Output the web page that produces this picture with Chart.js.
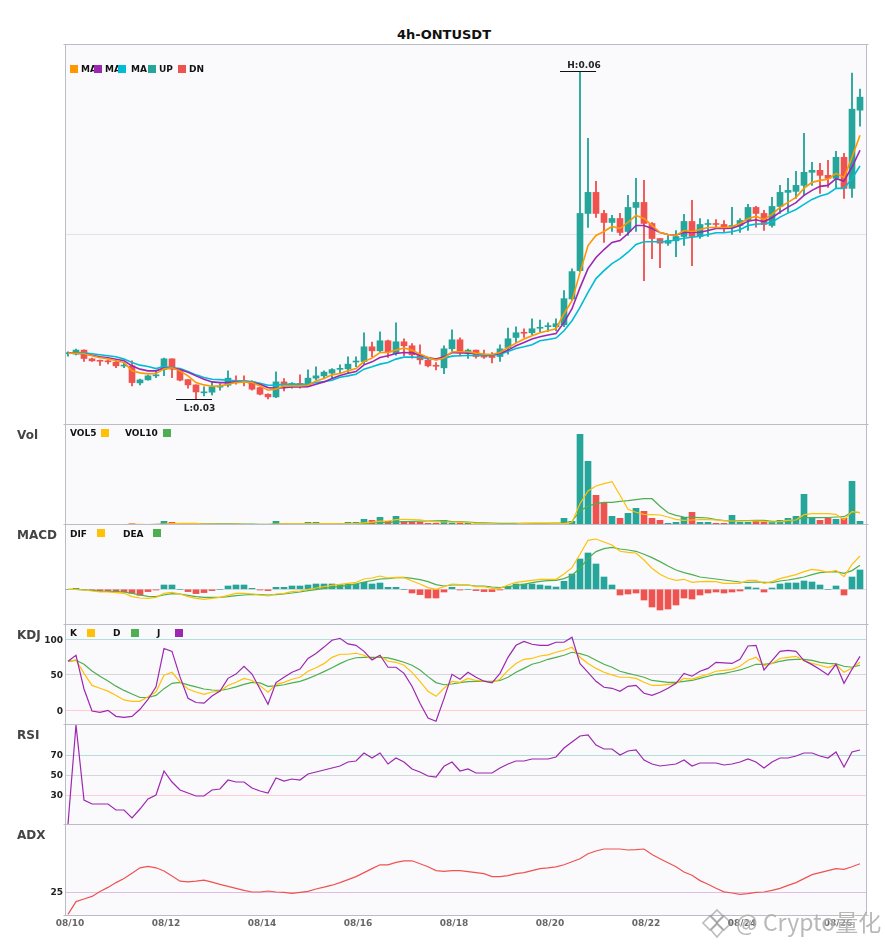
<!DOCTYPE html>
<html>
<head>
<meta charset="utf-8">
<title>4h-ONTUSDT</title>
<script src="https://cdn.jsdelivr.net/npm/chart.js@4"></script>
<style>
	html, body { margin: 0; padding: 0; background: #fff; }
	#page { position: relative; width: 885px; height: 950px; overflow: hidden; font-family: "DejaVu Sans", sans-serif; }
	canvas { position: absolute; left: 0; }
	.txt { position: absolute; font-weight: bold; white-space: nowrap; line-height: 1; }
	.title { left: 0; width: 888px; top: 28px; text-align: center; font-size: 13px; color: #111; }
	.name { left: 17px; font-size: 12px; color: #444; }
	.leg { font-size: 9px; color: #111; }
	.box { position: absolute; width: 8px; height: 8px; }
	#mark { position: absolute; left: 702px; top: 908px; z-index: 5; }
	#markText { position: absolute; left: 736px; top: 909px; z-index: 5; font-family: "Noto Sans CJK SC", sans-serif; font-size: 23px; line-height: 1.1; color: rgba(125,125,125,.55); text-shadow: 0 0 2px #fff; white-space: nowrap; }
</style>
</head>
<body>
<div id="page">
	<canvas id="mainChart" width="885" height="381" style="top:44px"></canvas>
	<canvas id="volChart" width="885" height="101" style="top:424px"></canvas>
	<canvas id="macdChart" width="885" height="101" style="top:524px"></canvas>
	<canvas id="kdjChart" width="885" height="101" style="top:624px"></canvas>
	<canvas id="rsiChart" width="885" height="101" style="top:724px"></canvas>
	<canvas id="adxChart" width="885" height="116" style="top:824px"></canvas>

	<div class="txt title">4h-ONTUSDT</div>
	<div class="txt name" style="top:429px">Vol</div>
	<div class="txt name" style="top:529px">MACD</div>
	<div class="txt name" style="top:629px">KDJ</div>
	<div class="txt name" style="top:729px">RSI</div>
	<div class="txt name" style="top:829px">ADX</div>

	<div class="box" style="left:70px;top:65px;background:#ff9800"></div><div class="txt leg" style="left:81px;top:65px">MA</div>
	<div class="txt leg" style="left:105px;top:65px">MA</div><div class="box" style="left:94px;top:65px;background:#9c27b0"></div>
	<div class="txt leg" style="left:131px;top:65px">MA</div><div class="box" style="left:118px;top:65px;background:#00bcd4"></div>
	<div class="box" style="left:148px;top:65px;background:#26a69a"></div><div class="txt leg" style="left:159px;top:65px">UP</div>
	<div class="box" style="left:178px;top:65px;background:#ef5350"></div><div class="txt leg" style="left:189px;top:65px">DN</div>

	<div class="txt leg" style="left:70px;top:429px">VOL5</div><div class="box" style="left:101px;top:429px;background:#ffc107"></div>
	<div class="txt leg" style="left:125px;top:429px">VOL10</div><div class="box" style="left:163px;top:429px;background:#4caf50"></div>

	<div class="txt leg" style="left:70px;top:530px">DIF</div><div class="box" style="left:97px;top:529px;background:#ffc107"></div>
	<div class="txt leg" style="left:123px;top:530px">DEA</div><div class="box" style="left:153px;top:529px;background:#4caf50"></div>

	<div class="txt leg" style="left:70px;top:629px">K</div><div class="box" style="left:87px;top:629px;background:#ffc107"></div>
	<div class="txt leg" style="left:113px;top:629px">D</div><div class="box" style="left:131px;top:629px;background:#4caf50"></div>
	<div class="txt leg" style="left:157px;top:629px">J</div><div class="box" style="left:175px;top:629px;background:#9c27b0"></div>

	<svg id="mark" width="30" height="32" viewBox="0 0 30 32" fill="none" stroke="rgba(135,135,135,.55)" stroke-width="1.6">
		<path d="M8 8 L15 15 L8 22 L1 15 Z"/><path d="M22 8 L29 15 L22 22 L15 15 Z"/><path d="M15 2 L21 8 L15 14 L9 8 Z"/><path d="M15 16 L21 22 L15 29 L9 22 Z"/>
	</svg>
	<div id="markText">@ Crypto量化</div>
</div>

<script>
const dates = ['08/10', '08/12', '08/14', '08/16', '08/18', '08/20', '08/22', '08/24', '08/26'];
const dateTicks = [0, 12, 24, 36, 48, 60, 72, 84, 96];

const opens = [
	.03451, .03447, .03487, .0340, .0338, .0338, .03367, .03328, .0333, .0316,
	.0319, .0323, .03293, .034, .03297, .03193, .0314, .03061, .03067, .03118,
	.03137, .0318, .0318, .0317, .03113, .03047, .0302, .0317, .03145, .03149,
	.03147, .03207, .0323, .03257, .03295, .033, .03368, .03373, .0352, .0348,
	.0358, .03453, .0357, .0353, .0344, .03387, .0333, .0331, .035, .0359,
	.03453, .03487, .03423, .0343, .03423, .03513, .03613, .0366, .0366, .03705,
	.03721, .0372, .0374, .03997, .0428, .0485, .0506, .0485, .0476, .048,
	.0467, .0491, .0496, .0475, .046, .04553, .04577, .0462, .0477, .0462,
	.0474, .04746, .0474, .04713, .0473, .0478, .0491, .0485, .0473, .0492,
	.0506, .0507, .0513, .0526, .0528, .0523, .052, .0541, .051, .0588
];
const closes = [
	.03454, .03487, .03403, .0338, .03376, .0337, .0333, .03332, .03163, .0319,
	.0323, .0324, .034, .03297, .03187, .0314, .0307, .03065, .0312, .03122,
	.03207, .03176, .03163, .03097, .03047, .0302, .0317, .03133, .03149, .03145,
	.03207, .0323, .03267, .03293, .03299, .03347, .03372, .0352, .0348, .0358,
	.03467, .0357, .0353, .0344, .0339, .0333, .03326, .035, .0359, .03457,
	.03487, .03423, .03417, .03413, .035, .036, .0366, .03655, .037, .03709,
	.03725, .0375, .04, .0427, .0485, .0506, .0485, .0476, .048, .0466,
	.0491, .0496, .0475, .046, .04553, .0458, .0462, .0477, .0462, .0474,
	.04746, .0474, .047, .0473, .0478, .0491, .0485, .0474, .0492, .0506,
	.0508, .0513, .0526, .0528, .0523, .052, .0541, .051, .0589, .0601
];
const highs = [
	.0347, .03497, .0349, .03407, .03387, .0339, .03387, .0336, .0338, .03197,
	.03237, .0328, .03407, .034, .03303, .03193, .0314, .0312, .03173, .03153,
	.0328, .0323, .0323, .0318, .03113, .0305, .0327, .03203, .03163, .0324,
	.0329, .0332, .0328, .03303, .0334, .0342, .0342, .0366, .03567, .0367,
	.03587, .0376, .036, .03553, .0354, .03397, .03363, .0353, .0369, .0361,
	.03497, .03487, .03487, .03463, .0354, .03707, .0372, .037, .038, .03787,
	.0376, .038, .0408, .04297, .06263, .056, .0517, .0488, .0483, .0485,
	.0503, .052, .0518, .0476, .046, .0463, .0468, .0484, .0498, .048,
	.0479, .0479, .0478, .0491, .048, .0494, .0492, .0488, .0501, .0513,
	.052, .0527, .0565, .0536, .0535, .0538, .0547, .0545, .0625, .0609
];
const lows = [
	.03427, .0344, .03373, .03373, .03333, .0335, .03313, .03313, .0313, .0314,
	.03187, .03213, .03233, .03213, .0318, .03107, .02997, .0303, .0304, .03087,
	.0312, .03147, .0313, .03087, .0304, .03, .03013, .0308, .03107, .03107,
	.0313, .03187, .03213, .03213, .03253, .03263, .03323, .03347, .0342, .03463,
	.03413, .03437, .0343, .03407, .03347, .0332, .0329, .03253, .03463, .0343,
	.03403, .03407, .03403, .0336, .03373, .03447, .03563, .03613, .0364, .0367,
	.03673, .0368, .0372, .0398, .0427, .0471, .0481, .0456, .0467, .0463,
	.0463, .0467, .0418, .044, .0431, .0453, .0442, .0453, .0433, .046,
	.0462, .047, .0466, .0464, .0466, .0468, .04713, .0468, .04713, .0485,
	.04863, .05, .0503, .0513, .0505, .0511, .051, .05, .0501, .0572
];

const maFast = [
	.03455, .03455, .0345, .0343, .0341, .0340, .0338, .03363, .0328, .0326,
	.0325, .03253, .0330, .0331, .0328, .0323, .03163, .0314, .03127, .0313,
	.03147, .03163, .0317, .03163, .0313, .03087, .0310, .0313, .0313, .0313,
	.03137, .0318, .03203, .0324, .03253, .0328, .03303, .03373, .03407, .03463,
	.03463, .03487, .03507, .03487, .03447, .03413, .03387, .03407, .0347, .0347,
	.0347, .03457, .03447, .03443, .03463, .03513, .03557, .03597, .0363, .0366,
	.0368, .0370, .0385, .0398, .0426, .0453, .0463, .0467, .0472, .0470,
	.0476, .0483, .0480, .0473, .0466, .0464, .0463, .0468, .0467, .0469,
	.0471, .0471, .0471, .0472, .0475, .0480, .0482, .0479, .0484, .0491,
	.0496, .0501, .0510, .0516, .0518, .0519, .0525, .0521, .0541, .0563
];
const maMid = [
	.03455, .03455, .0345, .03435, .0342, .0341, .03395, .0338, .0333, .03297,
	.0328, .0328, .03307, .03307, .03293, .03267, .0323, .03197, .0317, .03163,
	.03163, .0317, .0317, .03163, .03147, .03113, .03107, .03113, .0312, .0312,
	.03123, .03147, .0317, .03203, .03233, .03257, .03273, .0334, .0337, .03413,
	.0343, .03453, .03463, .0346, .03437, .03413, .03397, .0342, .0346, .0346,
	.03457, .03453, .03443, .0344, .03453, .03487, .0353, .03563, .03597, .0362,
	.03637, .03653, .03763, .039, .0411, .043, .0441, .0449, .0456, .0458,
	.0465, .0473, .0473, .0470, .0466, .0464, .04633, .04663, .0466, .04663,
	.0468, .0470, .0470, .04703, .0473, .04773, .04787, .04767, .04807, .04863,
	.04913, .04957, .0503, .0508, .0512, .0513, .05197, .05173, .05313, .0548
];
const maSlow = [
	.03455, .0346, .0346, .0345, .0344, .0343, .0342, .03397, .03363, .03337,
	.03323, .03303, .03323, .03313, .03303, .03273, .0324, .03213, .03197, .03193,
	.03187, .0318, .0318, .03173, .03157, .03137, .03137, .03147, .03147, .03147,
	.03147, .03163, .03173, .03187, .03217, .0323, .03247, .03297, .0332, .03347,
	.03363, .03397, .03417, .03417, .03413, .03403, .03393, .03407, .03427, .0343,
	.03433, .03433, .03433, .03433, .03447, .03473, .03503, .0352, .0354, .0358,
	.03593, .03607, .0368, .0378, .03913, .04063, .042, .0428, .0435, .044,
	.04463, .0454, .04567, .04567, .04567, .0457, .04587, .04603, .04613, .04623,
	.0464, .04657, .04657, .04667, .04687, .0473, .04743, .04747, .04763, .04813,
	.04853, .0489, .0494, .0499, .05023, .05047, .051, .051, .05197, .05323
];

const volume = [
	.2, .2, .2, .2, .2, .2, .2, .2, 1.3, .2,
	.3, .3, 3.7, 2.7, 1, 1, 1, .7, .7, .7,
	.7, .7, .7, .5, .3, .3, 3.7, 1, .7, .7,
	2.7, 2.7, 1, 1, 1, 2.7, 2.7, 5.7, 4.7, 7.7,
	3.7, 8.7, 3.7, 2.7, 2.7, 1.7, 1.7, 4.7, 2, 2,
	2, .7, .7, .7, 1, 1, 1, .8, 1, 1,
	1, 1, 6.7, 3.7, 90.7, 63.7, 29.7, 22.3, 8.7, 6.7,
	11.7, 16.7, 13.7, 6.7, 4.7, 1.7, 2.7, 7.7, 12.7, 2.7,
	2.7, 1.7, 1.7, 9.7, 2.7, 2.7, 3.7, 2.7, 2.7, 4.7,
	6.7, 8.7, 30.7, 7.7, 4.7, 6.7, 5.7, 6.7, 43.7, 3.7
];
const vol5 = [
	.3, .3, .3, .3, .3, .3, .3, .3, .6, .6,
	.5, .5, 1, 1.4, 1.6, 1.7, 1.6, 1, .8, .7,
	.7, .8, .6, .5, .5, .4, 1, 1.1, 1.1, 1.1,
	1.4, 1.4, 1.3, 1.3, 1.2, 1.4, 1.5, 2.2, 2.8, 3.8,
	4, 5.3, 5.7, 5.5, 5.2, 4, 3, 3, 3, 3,
	2.7, 1.7, 1.5, 1.2, 1, 1, 1.2, 1.7, 1.8, 2,
	1.8, 1.6, 1.3, 2.7, 21.3, 34, 39, 41.3, 43.3, 29.7,
	15.7, 12.7, 10.7, 10.3, 10, 8, 5.7, 4.7, 5, 5.3,
	5.3, 5, 4.3, 4, 4, 4, 4, 3.7, 3, 3.3,
	4.7, 5, 10.3, 11.3, 11.3, 11.3, 10.7, 5.3, 13.3, 12.3
];
const vol10 = [
	.3, .3, .3, .3, .3, .3, .3, .3, .5, .5,
	.5, .6, .8, 1, 1.2, 1.3, 1.3, 1.2, 1.2, 1.2,
	1.1, 1.1, 1, .8, .7, .7, .8, .8, .9, .9,
	1, 1.1, 1.1, 1.2, 1.2, 1.3, 1.4, 1.7, 2, 2.5,
	2.6, 3, 3.4, 3.6, 3.8, 4, 4.2, 4.3, 3.3, 3.3,
	3, 2.3, 2.2, 2, 1.7, 1.7, 1.7, 1.7, 1.7, 1.7,
	1.7, 1.8, 2, 3.7, 14, 19, 21.3, 22.7, 22.7, 23.7,
	24.3, 25.3, 26.3, 26.3, 18.7, 12.3, 9.7, 8, 7.7, 7.3,
	7, 5.3, 4.3, 4, 4.3, 4.5, 4.6, 4.7, 3.7, 3.7,
	3.7, 5.3, 7.3, 7.3, 7.4, 7.5, 8, 8.3, 13, 12.3
];

const macdHist = [
	0, 1, 0, -1.3, -2, -2, -2.5, -2.7, -4, -6,
	-2.3, -.7, 4.3, 4.3, 0, -2.3, -4.3, -3.3, -1.3, 0,
	3.3, 4.3, 4.3, 1, -.7, -1.3, 2, 2, 3.3, 3.3,
	4.3, 5.3, 5.3, 5.3, 5, 5.3, 5.3, 7, 5.3, 6.3,
	2, 2, 0, -3.7, -5.3, -8.7, -8.7, -2.7, 2, -.7,
	0, -1.3, -2.3, -2.3, -.7, 3, 5.3, 5.3, 5.3, 4.3,
	3.3, 2.3, 8, 15.3, 30.3, 36.3, 25.3, 12.3, 4.3, -5.7,
	-4.7, -3.7, -10.7, -17.7, -20.7, -19.7, -15.7, -8.7, -9.7, -5.7,
	-3.7, -2.7, -3.7, -2.7, -1.7, 2.3, 1.3, -2.7, 1.3, 5.3,
	6.3, 6.3, 8.3, 7.3, 4.3, 0, 3.3, -5.7, 12.3, 19.3
];
const dif = [
	0, 0, -.7, -1.7, -2.7, -2.7, -3.3, -4, -7.3, -8.7,
	-9, -8, -4, -3, -4.7, -7.3, -9, -10, -9, -8,
	-6, -4, -4, -4.7, -5.7, -6.7, -4.7, -4, -2.3, -1.7,
	0, 1.3, 2.7, 4, 5, 6, 7, 10.3, 11.3, 13.3,
	11.3, 12, 11.7, 8.3, 5.3, 1.7, 0, 2.7, 5.3, 4.7,
	4.3, 2.7, 2.7, 1, 1, 4.3, 7, 8, 9, 10,
	10, 10, 15.3, 21.7, 35, 49, 50.3, 47.3, 44.3, 38,
	37, 36.3, 29.3, 21, 15, 11, 9, 10, 7, 7.7,
	8, 7.7, 6, 6, 6, 9, 9, 6, 7.7, 10.7,
	12.7, 14.7, 17.7, 20, 19, 17, 19, 12.7, 25, 33.3
];
const dea = [
	0, 0, -.7, -1, -1.7, -2, -2.3, -2.7, -4, -5.7,
	-7, -7.3, -5.7, -4.3, -4.7, -6, -7.3, -8, -8, -8,
	-7.3, -6.3, -5.7, -5, -5.3, -5.7, -5.3, -4.7, -3.7, -2.7,
	-1.3, -.3, 1, 2, 3, 4, 5.3, 7.3, 8.7, 10.3,
	10.7, 11.7, 12, 11, 9.7, 7.7, 4.7, 3.3, 4.3, 4.3,
	4.3, 3.3, 3.3, 2.3, 1.7, 2.7, 3.7, 5, 6.7, 8,
	8.7, 9, 10.7, 14, 21, 31, 37.7, 40.7, 42, 40.3,
	39.3, 38, 35, 31.7, 27.7, 23.3, 19.3, 16.7, 14.7, 12.3,
	11.3, 10.3, 9.3, 8.3, 7.3, 7, 7.3, 7, 6.7, 8.3,
	9.3, 10.7, 12.3, 14.7, 16.7, 17.3, 17.7, 16, 18.7, 24
];

const kLine = [
	69, 70.9, 52, 35, 31, 27, 20.7, 14.6, 12.7, 12.7,
	19, 26, 49.3, 53.5, 40, 30, 25.8, 22.5, 25.8, 27,
	35, 39.4, 45, 42, 34.7, 25.4, 36.6, 39.4, 43.7, 46.5,
	55, 60, 65.7, 74.6, 78.9, 78.9, 80.3, 77.5, 71.8, 76.5,
	69, 67.6, 63.4, 53.5, 40.8, 26.8, 19.7, 31, 40.8, 39.4,
	45, 42, 41, 39.4, 43.7, 56.3, 66, 71.8, 73, 76.5,
	78, 81.7, 84.5, 88.7, 74.6, 66, 59, 53.5, 49.8, 46.5,
	46.5, 45, 39.4, 35, 35, 36.6, 38, 45, 44, 47.4,
	50.7, 55, 56.3, 57.7, 62, 70.4, 74.6, 63, 66, 73,
	74.6, 76, 70, 66, 63.4, 60, 64.3, 53.5, 59.6, 67.6
];
const dLine = [
	69, 70.4, 64.8, 55.4, 47.9, 41.3, 34, 28, 23, 18,
	18, 21, 30.5, 38, 39.4, 35.7, 33, 30, 28.6, 28,
	30, 33, 36.6, 39.4, 38.5, 33.8, 34.3, 36, 38.5, 40.8,
	44.6, 49.3, 54.5, 60, 65.7, 70.9, 74, 74.6, 74.6, 74.6,
	73.7, 70.9, 67.6, 63.4, 56.8, 47.4, 39, 36, 37, 39,
	40.4, 40.8, 40.8, 40.8, 42, 46.5, 53.5, 59, 64.8, 67.6,
	71.8, 74.6, 77.5, 81.7, 79.8, 76.5, 70.4, 64.8, 60.6, 55,
	52, 49.3, 46.5, 42, 40.8, 39.4, 39.4, 40.8, 42, 45,
	47.9, 50.7, 52, 54.3, 56.8, 60.6, 64.8, 64.8, 66, 69,
	70.9, 71.8, 71.8, 70.4, 67.6, 66, 65.3, 62, 60.6, 63.4
];
const jLine = [
	69, 77.5, 30, -1, -3, 0, -8.5, -10, -8.5, 1.4,
	15.5, 33, 87, 83, 47, 17, 11, 10, 20, 27,
	45, 51, 62, 51, 30, 8.5, 39, 46.5, 53.5, 58,
	73, 80, 89, 98.6, 101.4, 93.4, 91.5, 83, 71, 77.5,
	60.6, 60.6, 52, 33.8, 10, -11, -15.5, 16.4, 50.7, 43.7,
	53.5, 46.5, 41, 38.5, 52, 74.6, 91.5, 97, 93, 91.5,
	91.5, 95.8, 95.8, 102.8, 65.7, 53.5, 40.8, 32.4, 31, 26.8,
	33.8, 35.2, 24, 21, 25.4, 31, 38, 52, 48, 55,
	59, 67.6, 66.7, 66, 71.8, 90.6, 91.5, 56.8, 70, 83,
	84.5, 83, 70, 64.3, 57.3, 49.8, 64.8, 38, 57.7, 76
];

const rsi = [
	1, 100, 25, 21, 21, 21, 15, 15, 7, 16,
	26, 30, 54, 43, 35, 32, 29, 29, 35, 36,
	45, 43, 43, 37, 34, 32, 47, 44, 46, 45,
	51, 53, 55, 57, 59, 63, 64, 72, 67, 72,
	61, 67, 63, 56, 53, 49, 48, 58.7, 63, 54,
	56, 52, 52, 52, 57, 61, 64, 64, 66, 66,
	66, 68, 77, 83, 89, 90, 80, 76, 76, 70,
	74, 75, 65, 61, 59, 60, 61, 65, 59, 62,
	62, 62, 60, 61, 63, 66, 63, 57, 63, 67,
	67, 69, 72, 72, 69, 67, 73, 58, 73, 75
];

const adx = [
	13.8, 20.2, 21.5, 22.8, 25.3, 27.3, 29.7, 31.7, 34.4, 37.1,
	37.8, 37.1, 35.5, 33, 30.4, 30.1, 30.4, 30.9, 29.9, 28.8,
	27.8, 26.8, 25.8, 25, 25, 25.5, 25, 24.8, 24.3, 24.8,
	25.3, 26.5, 27.4, 28.4, 29.7, 31.2, 32.7, 34.7, 36.7, 38.6,
	38.6, 39.8, 40.6, 40.6, 39.1, 37.6, 35.7, 35.3, 35.7, 35.7,
	35.2, 34.7, 34.2, 32.7, 32.7, 33.2, 34.2, 34.7, 35.7, 36.7,
	37.1, 37.6, 38.6, 40.1, 41.6, 44.1, 45.5, 46.5, 46.5, 46.5,
	46, 46.2, 46.5, 43.7, 41.6, 39.6, 37.6, 35, 33.4, 30.7,
	28.9, 26.9, 25.1, 24.5, 23.8, 24.2, 24.8, 25, 25.8, 26.8,
	28.3, 29.7, 31.7, 33.7, 34.7, 35.7, 36.7, 36.3, 37.6, 39.1
];

const UP = '#26a69a';
const DN = '#ef5350';
const candleColors = opens.map((o, i) => closes[i] >= o ? UP : DN);

function points(values) {
	return values.map((v, i) => ({ x: i, y: v }));
}

function lineSet(values, color, width) {
	return {
		type: 'line',
		data: points(values),
		borderColor: color,
		borderWidth: width || 1.2,
		pointRadius: 0,
		tension: 0,
		order: 1
	};
}

function barSet(data, colors, thickness, order, minLength) {
	return {
		type: 'bar',
		data: data,
		backgroundColor: colors,
		barThickness: thickness,
		grouped: false,
		borderWidth: 0,
		borderSkipped: false,
		minBarLength: minLength || 0,
		order: order
	};
}

// panel background and frame
const panelFrame = {
	id: 'panelFrame',
	beforeDraw(chart) {
		const a = chart.chartArea;
		chart.ctx.fillStyle = '#fafafc';
		chart.ctx.fillRect(a.left, a.top, a.width, a.height);
	},
	afterDraw(chart) {
		const a = chart.chartArea;
		const c = chart.ctx;
		c.save();
		c.strokeStyle = '#bcbcc4';
		c.lineWidth = 1;
		c.beginPath();
		// top and bottom lines stick out 2px, like small ticks on the frame
		c.moveTo(a.left - 2.5, a.top - 0.5);
		c.lineTo(a.right + 2.5, a.top - 0.5);
		c.moveTo(a.left - 2.5, a.bottom + 0.5);
		c.lineTo(a.right + 2.5, a.bottom + 0.5);
		c.moveTo(a.left - 0.5, a.top - 0.5);
		c.lineTo(a.left - 0.5, a.bottom);
		c.moveTo(a.right + 0.5, a.top - 0.5);
		c.lineTo(a.right + 0.5, a.bottom);
		c.stroke();
		c.restore();
	}
};

// H: / L: marks on the highest and lowest candle
const hiLoMarks = {
	id: 'hiLoMarks',
	afterDatasetsDraw(chart) {
		const c = chart.ctx;
		const x = chart.scales.x;
		const y = chart.scales.y;
		const hi = Math.max(...highs);
		const lo = Math.min(...lows);
		const hx = x.getPixelForValue(highs.indexOf(hi));
		const lx = x.getPixelForValue(lows.indexOf(lo));
		const hy = Math.round(y.getPixelForValue(hi)) - 0.5;
		const ly = Math.round(y.getPixelForValue(lo)) + 0.5;
		c.save();
		c.strokeStyle = '#111';
		c.lineWidth = 1;
		c.beginPath();
		c.moveTo(hx - 20, hy);
		c.lineTo(hx + 16, hy);
		c.moveTo(lx - 20, ly);
		c.lineTo(lx + 16, ly);
		c.stroke();
		c.fillStyle = '#222';
		c.font = 'bold 9px "DejaVu Sans"';
		c.textAlign = 'center';
		c.textBaseline = 'middle';
		c.fillText('H:' + hi.toFixed(2), hx + 4, hy - 6);
		c.fillText('L:' + lo.toFixed(2), lx + 3.5, ly + 9);
		c.restore();
	}
};

function makePanel(id, datasets, yMin, yMax, gridLines, showLabels, withDates) {
	return new Chart(document.getElementById(id).getContext('2d'), {
		type: 'bar',
		data: { datasets: datasets },
		plugins: id === 'mainChart' ? [panelFrame, hiLoMarks] : [panelFrame],
		options: {
			responsive: false,
			animation: false,
			events: [],
			layout: { padding: { left: 0, right: 19, top: 1, bottom: 0 } },
			plugins: { legend: { display: false }, tooltip: { enabled: false }, title: { display: false } },
			scales: {
				x: {
					type: 'linear',
					offset: false,
					min: -0.25,
					max: 99.75,
					display: withDates,
					afterBuildTicks: s => { s.ticks = dateTicks.map(v => ({ value: v })); },
					afterFit: s => {
						s.height = withDates ? 25 : 0;
						s.paddingLeft = 0;
						s.paddingRight = 0;
					},
					grid: { display: false, drawTicks: false },
					border: { display: false },
					ticks: {
						autoSkip: false,
						maxRotation: 0,
						padding: 3,
						labelOffset: 2,
						color: '#666',
						font: { family: 'DejaVu Sans', size: 9, weight: 'bold' },
						callback: (v, i) => dates[i]
					}
				},
				y: {
					min: yMin,
					max: yMax,
					afterBuildTicks: s => { s.ticks = gridLines.map(g => ({ value: g.value })); },
					afterFit: s => {
						s.width = 66;
						s.paddingTop = 0;
						s.paddingBottom = 0;
					},
					grid: {
						drawTicks: false,
						lineWidth: 1,
						color: ctx => {
							const g = gridLines.find(l => l.value === ctx.tick.value);
							return g ? g.color : 'transparent';
						}
					},
					border: { display: false },
					ticks: {
						padding: 3,
						labelOffset: 1,
						color: '#222',
						font: { family: 'DejaVu Sans', size: 9, weight: 'bold' },
						callback: v => showLabels ? v : ''
					}
				}
			}
		}
	});
}

const bodies = opens.map((o, i) => ({ x: i, y: [Math.min(o, closes[i]), Math.max(o, closes[i])] }));
const wicks = highs.map((h, i) => ({ x: i, y: [lows[i], h] }));

makePanel('mainChart', [
	lineSet(maFast, '#ff9800', 1.6),
	lineSet(maMid, '#9c27b0', 1.6),
	lineSet(maSlow, '#00bcd4', 1.6),
	barSet(bodies, candleColors, 6, 2, 1),
	barSet(wicks, candleColors, 1.2, 3)
], 0.0274, 0.0653, [{ value: 0.0464, color: '#e2e1ea' }], false, false);

makePanel('volChart', [
	lineSet(vol5, '#ffc107'),
	lineSet(vol10, '#4caf50'),
	barSet(points(volume), candleColors, 6, 2)
], 0, 100, [{ value: 0, color: '#bcbcc4' }], false, false);

makePanel('macdChart', [
	lineSet(dif, '#ffc107'),
	lineSet(dea, '#4caf50'),
	barSet(points(macdHist), macdHist.map(v => v >= 0 ? UP : DN), 6, 2)
], -35.7, 64.3, [{ value: 0, color: '#dddde2' }], false, false);

makePanel('kdjChart', [
	lineSet(jLine, '#9c27b0'),
	lineSet(kLine, '#ffc107'),
	lineSet(dLine, '#4caf50')
], -20.7, 120.1, [
	{ value: 100, color: '#b2dfdb' },
	{ value: 50, color: '#d6d6da' },
	{ value: 0, color: '#ffcdd2' }
], true, false);

makePanel('rsiChart', [
	lineSet(rsi, '#9c27b0')
], 0, 100, [
	{ value: 70, color: '#b2dfdb' },
	{ value: 50, color: '#d6d6da' },
	{ value: 30, color: '#ffcdd2' }
], true, false);

makePanel('adxChart', [
	lineSet(adx, '#ef5350')
], 13.5, 58.5, [{ value: 25, color: '#e1bee7' }], true, true);
</script>
</body>
</html>
